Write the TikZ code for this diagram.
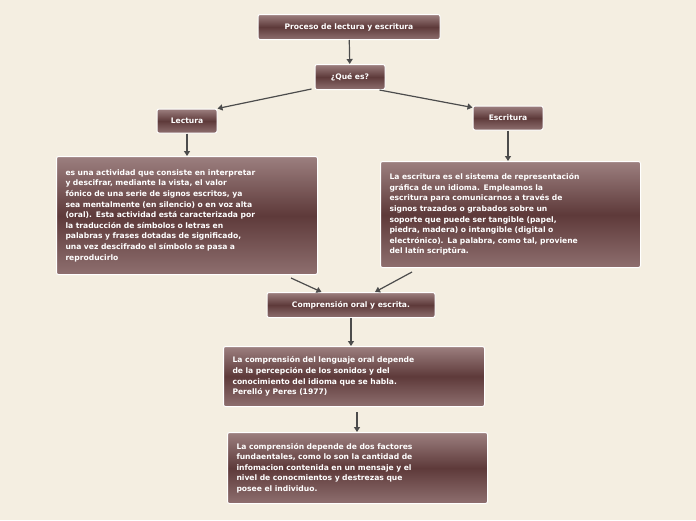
\documentclass[tikz,border=0pt]{standalone}
\usepackage{fontspec}
\setmainfont{DejaVu Sans}
\usetikzlibrary{arrows.meta}
\definecolor{bg}{HTML}{F4EEE1}
\definecolor{btop}{HTML}{9C7F7F}
\definecolor{bmid}{HTML}{5E3A3A}
\definecolor{bbot}{HTML}{8E6F6F}
\tikzset{
 box/.style={draw=white,line width=1pt,rounded corners=2pt,top color=btop,bottom color=bbot,middle color=bmid,
   text=white,font=\bfseries\fontsize{7.6}{10.6}\selectfont,inner sep=0pt},
 lab/.style={box,align=center},
 txt/.style={box,align=left,anchor=north west,inner xsep=9pt,inner ysep=6pt},
 arr/.style={-{Triangle[length=5pt,width=6pt]},draw=black!70,line width=1.2pt}
}
\begin{document}
\begin{tikzpicture}[x=1pt,y=-1pt]
\fill[bg] (0,0) rectangle (696,520);
\useasboundingbox (0,0) rectangle (696,520);
\node[lab,minimum width=182pt,minimum height=25pt] (t) at (349,27) {Proceso de lectura y escritura};
\node[lab,minimum width=70pt,minimum height=25pt] (q) at (350,77) {¿Qué es?};
\node[lab,minimum width=60pt,minimum height=24pt] (l) at (187,121) {Lectura};
\node[lab,minimum width=70pt,minimum height=24pt] (e) at (508,118) {Escritura};
\node[txt,text width=243pt,minimum height=118pt] (lt) at (56,156) {es una actividad que consiste en interpretar\\y descifrar, mediante la vista, el valor\\fónico de una serie de signos escritos, ya\\sea mentalmente (en silencio) o en voz alta\\(oral). Esta actividad está caracterizada por\\la traducción de símbolos o letras en\\palabras y frases dotadas de significado,\\una vez descifrado el símbolo se pasa a\\reproducirlo};
\node[txt,text width=242pt,minimum height=106pt] (et) at (380,161) {La escritura es el sistema de representación\\gráfica de un idioma. Empleamos la\\escritura para comunicarnos a través de\\signos trazados o grabados sobre un\\soporte que puede ser tangible (papel,\\piedra, madera) o intangible (digital o\\electrónico). La palabra, como tal, proviene\\del latín scriptūra.};
\node[lab,minimum width=168pt,minimum height=25pt] (c) at (351,305) {Comprensión oral y escrita.};
\node[txt,text width=243pt,minimum height=60pt] (b3) at (223,346) {La comprensión del lenguaje oral depende\\de la percepción de los sonidos y del\\conocimiento del idioma que se habla.\\Perelló y Peres (1977)};
\node[txt,text width=242pt,minimum height=71pt] (b4) at (227,432) {La comprensión depende de dos factores\\fundaentales, como lo son la cantidad de\\infomacion contenida en un mensaje y el\\nivel de conocmientos y destrezas que\\posee el individuo.};
\draw[arr] (t) -- (q);
\draw[arr] (q.west|-0,89) ++(-3,0) -- (l.north east);
\draw[arr] ([xshift=-6pt]q.south east) -- ([yshift=-2pt]e.north west);
\draw[arr] (l) -- (lt.north-|l);
\draw[arr] (e) -- (et.north-|e);
\draw[arr] ([xshift=-27pt]lt.south east) ++(0,3) -- ([xshift=55pt]c.north west);
\draw[arr] ([xshift=32pt]et.south west) ++(0,4) -- ([xshift=24pt]c.north);
\draw[arr] (c) -- (b3.north-|c);
\draw[arr] (b3.south-|357,0) ++(0,5) -- (b4.north-|357,0);
\end{tikzpicture}
\end{document}
